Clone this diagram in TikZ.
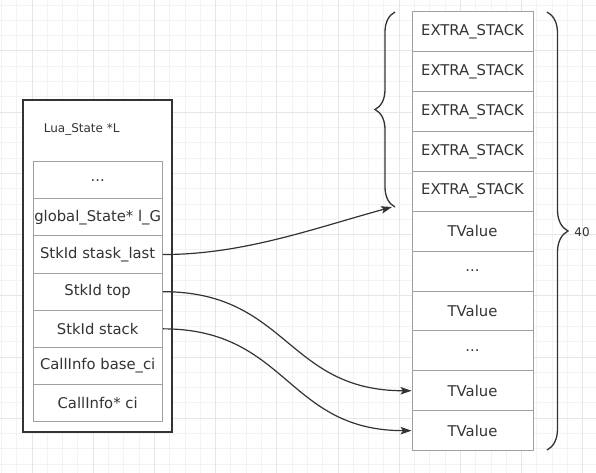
\documentclass[tikz,border=0pt]{standalone}
\usepackage{fontspec}
\setmainfont{DejaVu Sans}
\usetikzlibrary{arrows.meta,decorations.pathreplacing}
\definecolor{txt}{HTML}{333333}
\definecolor{cellline}{HTML}{A0A0A0}
\definecolor{gridminor}{HTML}{F3F3F3}
\definecolor{gridmajor}{HTML}{E6E6E6}
\begin{document}
\begin{tikzpicture}[x=1pt,y=-1pt,
  cell/.style={draw=cellline, line width=1pt, fill=white, text=txt,
    font=\fontsize{14.8}{17}\selectfont, inner sep=0pt,
    minimum width=121pt, minimum height=39.9pt},
  lcell/.style={cell, minimum width=129.3pt, minimum height=37.14pt},
  conn/.style={draw=txt, line width=1.2pt,
    -{Stealth[length=11pt,width=7.5pt,inset=2.5pt]}},
  brc/.style={draw=txt, line width=1.3pt, decorate,
    decoration={brace, amplitude=20pt}},
  small/.style={text=txt, font=\fontsize{12}{14}\selectfont}]
\useasboundingbox (0,0) rectangle (596,473);
\fill[white] (0,0) rectangle (596,473);
% grid
\foreach \i in {0,...,38} \draw[gridminor, line width=1pt] ({1.4+15.3*\i},0) -- ++(0,473);
\foreach \j in {0,...,30} \draw[gridminor, line width=1pt] (0,{5.1+15.3*\j}) -- ++(596,0);
\foreach \i in {0,...,9} \draw[gridmajor, line width=1pt] ({32+61.2*\i},0) -- ++(0,473);
\foreach \j in {0,...,7} \draw[gridmajor, line width=1pt] (0,{51+61.2*\j}) -- ++(596,0);
% left structure
\node[draw=txt, line width=2pt, fill=white, minimum width=149.6pt,
  minimum height=331.7pt, inner sep=0pt] (Lstate) at (97.5,265.85) {};
\node[small] (Llabel) at (81.7,129.3) {Lua\_State *L};
\node[lcell] (ls1) at (97.65,180.27) {...};
\node[lcell] (ls2) at (97.65,217.41) {global\_State* l\_G};
\node[lcell] (ls3) at (97.65,254.55) {StkId stask\_last};
\node[lcell] (ls4) at (97.65,291.69) {StkId top};
\node[lcell] (ls5) at (97.65,328.83) {StkId stack};
\node[lcell] (ls6) at (97.65,365.97) {CallInfo base\_ci};
\node[lcell] (ls7) at (97.65,403.11) {CallInfo* ci};
% right stack
\node[cell] (r1) at (472.5,31.65) {EXTRA\_STACK};
\node[cell] (r2) at (472.5,71.55) {EXTRA\_STACK};
\node[cell] (r3) at (472.5,111.45) {EXTRA\_STACK};
\node[cell] (r4) at (472.5,151.35) {EXTRA\_STACK};
\node[cell] (r5) at (472.5,191.25) {EXTRA\_STACK};
\node[cell] (r6) at (472.5,231.15) {TValue};
\node[cell] (r7) at (472.5,271.05) {...};
\node[cell] (r8) at (472.5,310.95) {TValue};
\node[cell] (r9) at (472.5,350.85) {...};
\node[cell] (r10) at (472.5,390.75) {TValue};
\node[cell] (r11) at (472.5,430.65) {TValue};
% braces
\coordinate (lbB) at (395,207);
\coordinate (lbT) at (395,12);
\draw[brc] (lbB) -- (lbT);
\coordinate (rbT) at (547,12);
\coordinate (rbB) at (547,450);
\draw[brc, decoration={brace, amplitude=21pt}] (rbT) -- (rbB);
\node[small] (cnt) at (582,232) {40};
% connectors
\coordinate (tip1) at (392,207);
\draw[conn] (ls3.east) .. controls +(80,0) and +(-80,22) .. (tip1);
\draw[conn] (ls4.east) .. controls +(125,0) and +(-125,0) .. (r10.west);
\draw[conn] (ls5.east) .. controls +(125,0) and +(-125,0) .. (r11.west);
\end{tikzpicture}
\end{document}
